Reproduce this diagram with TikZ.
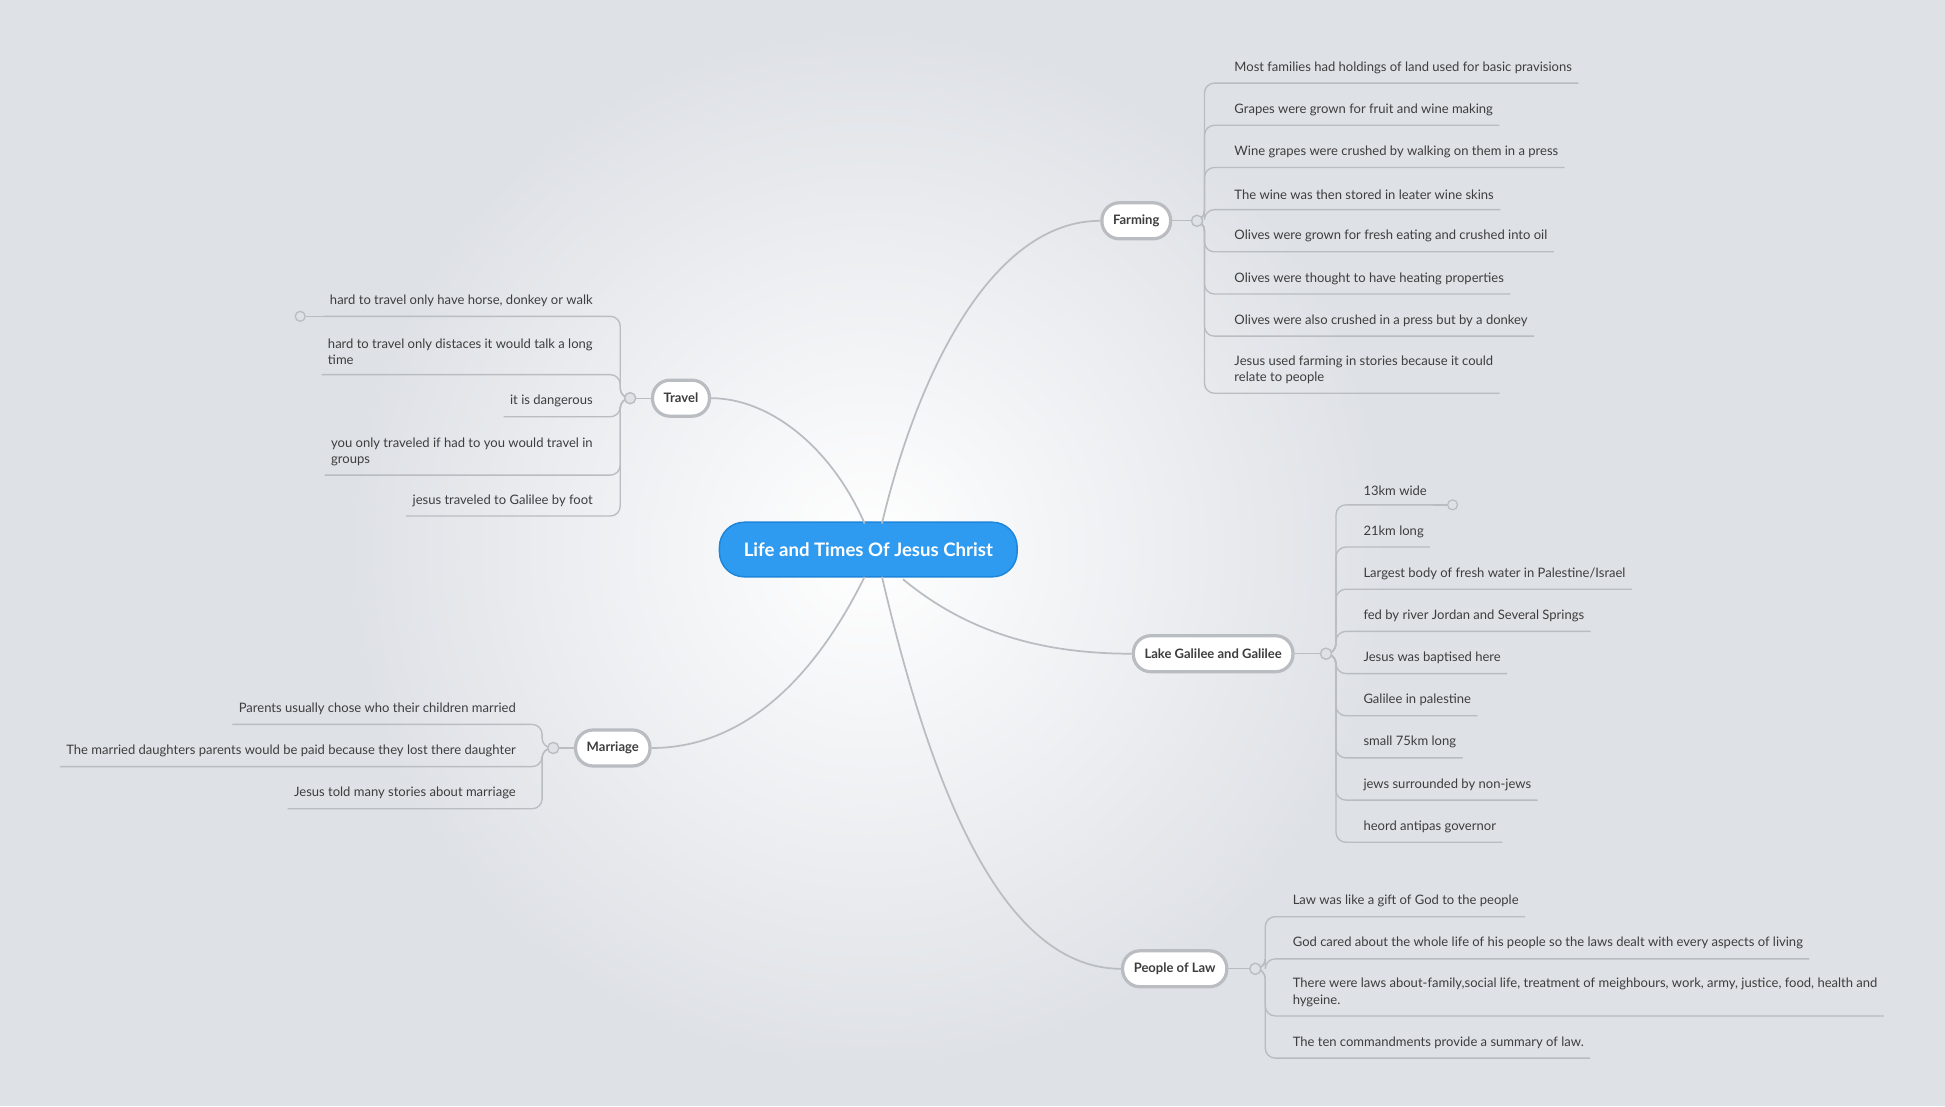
\documentclass[tikz,border=0pt]{standalone}
\usepackage{fontspec}
\setmainfont{Lato}
\definecolor{bg}{HTML}{DEE1E6}
\definecolor{ln}{HTML}{B9BCC1}
\definecolor{tx}{HTML}{3D3D3D}
\definecolor{blu}{HTML}{2F9BF0}
\definecolor{blub}{HTML}{1E86DA}
\tikzset{
 leaf/.style={font=\fontsize{10.5}{13}\selectfont, text=tx, inner xsep=5pt, inner ysep=7.5pt, align=left},
 conn/.style={draw=ln, line width=1.1pt, rounded corners=8pt},
 curve/.style={draw=ln, line width=1.4pt},
 branch/.style={draw=ln, line width=2.6pt, fill=white, rounded corners=14pt, font=\fontsize{10.5}{13}\selectfont\bfseries, text=tx, minimum height=29pt, inner xsep=9pt},
 hub/.style={circle, draw=ln, line width=1.1pt, fill=bg, minimum size=9pt, inner sep=0pt},
 dotc/.style={circle, draw=ln, line width=1pt, fill=bg, minimum size=8pt, inner sep=0pt}
}
\begin{document}
\begin{tikzpicture}[x=1pt,y=-1pt]
\fill[bg] (0,0) rectangle (1568,892);
\useasboundingbox (0,0) rectangle (1568,892);
\shade[inner color=white, outer color=bg] (700,443) circle (420);
% central
\node[fill=blu, draw=blub, line width=1.2pt, rounded corners=20pt, minimum width=240pt, minimum height=44pt, text=white, font=\fontsize{15}{18}\selectfont\bfseries] (c) at (700,443) {Life and Times Of Jesus Christ};
% branches
\node[branch] (far) at (916,178) {Farming};
\node[branch] (tra) at (549,321) {Travel};
\node[branch] (mar) at (494,603) {Marriage};
\node[branch] (lak) at (978,527) {Lake Galilee and Galilee};
\node[branch] (law) at (947,781) {People of Law};
\draw[curve] (711,422) .. controls (740,300) and (800,178) .. (far.west);
\draw[curve] (728,467) .. controls (780,510) and (840,527) .. (lak.west);
\draw[curve] (711,465) .. controls (745,610) and (800,781) .. (law.west);
\draw[curve] (697,422) .. controls (670,360) and (620,321) .. (tra.east);
\draw[curve] (697,465) .. controls (650,560) and (590,603) .. (mar.east);
% hub coordinates
\coordinate (hf) at (965,178);
\coordinate (hl) at (1069,527);
\coordinate (hw) at (1012,781);
\coordinate (ht) at (508,321);
\coordinate (hm) at (446,603);
% right leaves
\foreach \n/\ul/\t in {1/67/{Most families had holdings of land used for basic pravisions},
 2/101/{Grapes were grown for fruit and wine making},
 3/135/{Wine grapes were crushed by walking on them in a press},
 4/169/{The wine was then stored in leater wine skins},
 5/203/{Olives were grown for fresh eating and crushed into oil},
 6/237/{Olives were thought to have heating properties},
 7/271/{Olives were also crushed in a press but by a donkey},
 8/317/{Jesus used farming in stories because it could\\relate to people}}{
 \node[leaf,anchor=south west] (f\n) at (990,\ul) {\t};
 \draw[conn] (hf) -- (971,178) -- (971,\ul) -- (f\n.south east);
}
\foreach \n/\ul/\t in {1/407/{13km wide},2/441/{21km long},
 3/475/{Largest body of fresh water in Palestine/Israel},
 4/509/{fed by river Jordan and Several Springs},
 5/543/{Jesus was baptised here},6/577/{Galilee in palestine},
 7/611/{small 75km long},8/645/{jews surrounded by non-jews},
 9/679/{heord antipas governor}}{
 \node[leaf,anchor=south west] (g\n) at (1094,\ul) {\t};
 \draw[conn] (hl) -- (1077,527) -- (1077,\ul) -- (g\n.south east);
}
\node[dotc] (gd) at (1171,407) {};
\draw[conn] (g1.south east) -- (gd);
\foreach \n/\ul/\t in {1/739/{Law was like a gift of God to the people},
 2/773/{God cared about the whole life of his people so the laws dealt with every aspects of living},
 3/819/{There were laws about-family,social life, treatment of meighbours, work, army, justice, food, health and\\hygeine.},
 4/853/{The ten commandments provide a summary of law.}}{
 \node[leaf,anchor=south west] (w\n) at (1037,\ul) {\t};
 \draw[conn] (hw) -- (1020,781) -- (1020,\ul) -- (w\n.south east);
}
% left leaves
\foreach \n/\ul/\t in {1/255/{hard to travel only have horse, donkey or walk},
 2/302/{hard to travel only distaces it would talk a long\\time},
 3/336/{it is dangerous},
 4/383/{you only traveled if had to you would travel in\\groups},
 5/416/{jesus traveled to Galilee by foot}}{
 \node[leaf,anchor=south east] (t\n) at (483,\ul) {\t};
 \draw[conn] (ht) -- (500,321) -- (500,\ul) -- (t\n.south west);
}
\node[dotc] (td) at (242,255) {};
\draw[conn] (t1.south west) -- (td);
\foreach \n/\ul/\t in {1/584/{Parents usually chose who their children married},
 2/618/{The married daughters parents would be paid because they lost there daughter},
 3/652/{Jesus told many stories about marriage}}{
 \node[leaf,anchor=south east] (m\n) at (421,\ul) {\t};
 \draw[conn] (hm) -- (437,603) -- (437,\ul) -- (m\n.south west);
}
% hub circles on top
\draw[conn] (far) -- (hf); \draw[conn] (lak) -- (hl); \draw[conn] (law) -- (hw);
\draw[conn] (tra) -- (ht); \draw[conn] (mar) -- (hm);
\foreach \h in {hf,hl,hw,ht,hm} \node[hub] at (\h) {};
\end{tikzpicture}
\end{document}
